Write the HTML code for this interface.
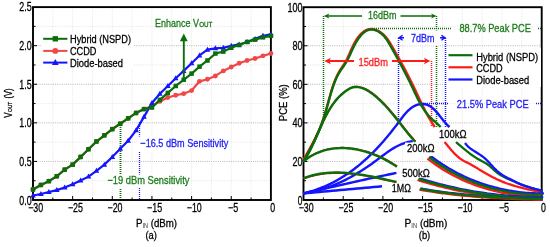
<!DOCTYPE html>
<html><head><meta charset="utf-8"><title>Figure</title>
<style>html,body{margin:0;padding:0;background:#fff;overflow:hidden}svg{display:block}</style></head>
<body>
<svg width="550" height="247" viewBox="0 0 550 247" font-family="'Liberation Sans', sans-serif">
<rect width="550" height="247" fill="#fff"/>
<path d="M52.83,7.10 V200.00 M72.65,7.10 V200.00 M92.47,7.10 V200.00 M112.30,7.10 V200.00 M132.12,7.10 V200.00 M151.95,7.10 V200.00 M171.77,7.10 V200.00 M191.60,7.10 V200.00 M211.42,7.10 V200.00 M231.25,7.10 V200.00 M251.07,7.10 V200.00 M33.00,26.39 H270.90 M33.00,64.97 H270.90 M33.00,103.55 H270.90 M33.00,142.13 H270.90 M33.00,180.71 H270.90" stroke="#dddddd" stroke-width="0.7" stroke-dasharray="1 1.2" fill="none"/>
<path d="M33.00,45.68 H270.90 M33.00,84.26 H270.90 M33.00,122.84 H270.90 M33.00,161.42 H270.90" stroke="#a4a4a4" stroke-width="0.8" stroke-dasharray="1 1.2" fill="none"/>
<path d="M120.5,123 V200" stroke="#0a6e0a" stroke-width="1.8" stroke-dasharray="1 1"/>
<path d="M139.5,122 V200" stroke="#1414ff" stroke-width="1.3" stroke-dasharray="1 1"/>
<rect x="33.00" y="7.10" width="237.90" height="192.90" fill="none" stroke="#000" stroke-width="1.9"/>
<path d="M52.83,200.00 v-2.50 M72.65,200.00 v-4.00 M92.47,200.00 v-2.50 M112.30,200.00 v-4.00 M132.12,200.00 v-2.50 M151.95,200.00 v-4.00 M171.77,200.00 v-2.50 M191.60,200.00 v-4.00 M211.42,200.00 v-2.50 M231.25,200.00 v-4.00 M251.07,200.00 v-2.50 M33.00,26.39 h2.50 M33.00,45.68 h4.00 M33.00,64.97 h2.50 M33.00,84.26 h4.00 M33.00,103.55 h2.50 M33.00,122.84 h4.00 M33.00,142.13 h2.50 M33.00,161.42 h4.00 M33.00,180.71 h2.50" stroke="#000" stroke-width="1" fill="none"/>
<path d="M33.00,189.51L40.93,184.95L48.86,181.17L56.79,176.23L64.72,169.68L72.65,164.66L80.58,156.94L88.51,149.23L96.44,141.51L104.37,135.34L112.30,129.17L120.23,123.77L128.16,118.36L136.09,112.96L144.02,109.11L151.95,106.02L159.88,101.39L167.81,97.53L175.74,95.22L183.67,93.67L191.60,90.59L199.53,81.33L207.46,79.24L215.39,75.93L223.32,70.91L231.25,67.05L239.18,63.20L247.11,60.49L255.04,58.49L262.97,55.87L270.90,53.55" stroke="#f04848" stroke-width="2.2" fill="none" stroke-linejoin="round"/>
<circle cx="33.00" cy="189.51" r="2.45" fill="#f04848"/>
<circle cx="40.93" cy="184.95" r="2.45" fill="#f04848"/>
<circle cx="48.86" cy="181.17" r="2.45" fill="#f04848"/>
<circle cx="56.79" cy="176.23" r="2.45" fill="#f04848"/>
<circle cx="64.72" cy="169.68" r="2.45" fill="#f04848"/>
<circle cx="72.65" cy="164.66" r="2.45" fill="#f04848"/>
<circle cx="80.58" cy="156.94" r="2.45" fill="#f04848"/>
<circle cx="88.51" cy="149.23" r="2.45" fill="#f04848"/>
<circle cx="96.44" cy="141.51" r="2.45" fill="#f04848"/>
<circle cx="104.37" cy="135.34" r="2.45" fill="#f04848"/>
<circle cx="112.30" cy="129.17" r="2.45" fill="#f04848"/>
<circle cx="120.23" cy="123.77" r="2.45" fill="#f04848"/>
<circle cx="128.16" cy="118.36" r="2.45" fill="#f04848"/>
<circle cx="136.09" cy="112.96" r="2.45" fill="#f04848"/>
<circle cx="144.02" cy="109.11" r="2.45" fill="#f04848"/>
<circle cx="151.95" cy="106.02" r="2.45" fill="#f04848"/>
<circle cx="159.88" cy="101.39" r="2.45" fill="#f04848"/>
<circle cx="167.81" cy="97.53" r="2.45" fill="#f04848"/>
<circle cx="175.74" cy="95.22" r="2.45" fill="#f04848"/>
<circle cx="183.67" cy="93.67" r="2.45" fill="#f04848"/>
<circle cx="191.60" cy="90.59" r="2.45" fill="#f04848"/>
<circle cx="199.53" cy="81.33" r="2.45" fill="#f04848"/>
<circle cx="207.46" cy="79.24" r="2.45" fill="#f04848"/>
<circle cx="215.39" cy="75.93" r="2.45" fill="#f04848"/>
<circle cx="223.32" cy="70.91" r="2.45" fill="#f04848"/>
<circle cx="231.25" cy="67.05" r="2.45" fill="#f04848"/>
<circle cx="239.18" cy="63.20" r="2.45" fill="#f04848"/>
<circle cx="247.11" cy="60.49" r="2.45" fill="#f04848"/>
<circle cx="255.04" cy="58.49" r="2.45" fill="#f04848"/>
<circle cx="262.97" cy="55.87" r="2.45" fill="#f04848"/>
<circle cx="270.90" cy="53.55" r="2.45" fill="#f04848"/>
<path d="M33.00,195.52L40.93,193.98L48.86,192.05L56.79,190.12L64.72,187.42L72.65,184.34L80.58,180.48L88.51,176.62L96.44,170.83L104.37,164.66L112.30,156.94L120.23,148.84L128.16,140.74L136.09,130.32L144.02,116.82L151.95,102.93L159.88,93.67L167.81,85.96L175.74,78.24L183.67,70.91L191.60,63.20L199.53,55.48L207.46,49.69L215.39,48.30L223.32,47.76L231.25,45.83L239.18,44.45L247.11,41.98L255.04,38.89L262.97,35.80L270.90,34.26" stroke="#1414ff" stroke-width="2.2" fill="none" stroke-linejoin="round"/>
<path d="M33.00,192.52 l2.80,5.00 h-5.60z" fill="#1414ff"/>
<path d="M40.93,190.98 l2.80,5.00 h-5.60z" fill="#1414ff"/>
<path d="M48.86,189.05 l2.80,5.00 h-5.60z" fill="#1414ff"/>
<path d="M56.79,187.12 l2.80,5.00 h-5.60z" fill="#1414ff"/>
<path d="M64.72,184.42 l2.80,5.00 h-5.60z" fill="#1414ff"/>
<path d="M72.65,181.34 l2.80,5.00 h-5.60z" fill="#1414ff"/>
<path d="M80.58,177.48 l2.80,5.00 h-5.60z" fill="#1414ff"/>
<path d="M88.51,173.62 l2.80,5.00 h-5.60z" fill="#1414ff"/>
<path d="M96.44,167.83 l2.80,5.00 h-5.60z" fill="#1414ff"/>
<path d="M104.37,161.66 l2.80,5.00 h-5.60z" fill="#1414ff"/>
<path d="M112.30,153.94 l2.80,5.00 h-5.60z" fill="#1414ff"/>
<path d="M120.23,145.84 l2.80,5.00 h-5.60z" fill="#1414ff"/>
<path d="M128.16,137.74 l2.80,5.00 h-5.60z" fill="#1414ff"/>
<path d="M136.09,127.32 l2.80,5.00 h-5.60z" fill="#1414ff"/>
<path d="M144.02,113.82 l2.80,5.00 h-5.60z" fill="#1414ff"/>
<path d="M151.95,99.93 l2.80,5.00 h-5.60z" fill="#1414ff"/>
<path d="M159.88,90.67 l2.80,5.00 h-5.60z" fill="#1414ff"/>
<path d="M167.81,82.96 l2.80,5.00 h-5.60z" fill="#1414ff"/>
<path d="M175.74,75.24 l2.80,5.00 h-5.60z" fill="#1414ff"/>
<path d="M183.67,67.91 l2.80,5.00 h-5.60z" fill="#1414ff"/>
<path d="M191.60,60.20 l2.80,5.00 h-5.60z" fill="#1414ff"/>
<path d="M199.53,52.48 l2.80,5.00 h-5.60z" fill="#1414ff"/>
<path d="M207.46,46.69 l2.80,5.00 h-5.60z" fill="#1414ff"/>
<path d="M215.39,45.30 l2.80,5.00 h-5.60z" fill="#1414ff"/>
<path d="M223.32,44.76 l2.80,5.00 h-5.60z" fill="#1414ff"/>
<path d="M231.25,42.83 l2.80,5.00 h-5.60z" fill="#1414ff"/>
<path d="M239.18,41.45 l2.80,5.00 h-5.60z" fill="#1414ff"/>
<path d="M247.11,38.98 l2.80,5.00 h-5.60z" fill="#1414ff"/>
<path d="M255.04,35.89 l2.80,5.00 h-5.60z" fill="#1414ff"/>
<path d="M262.97,32.80 l2.80,5.00 h-5.60z" fill="#1414ff"/>
<path d="M270.90,31.26 l2.80,5.00 h-5.60z" fill="#1414ff"/>
<path d="M33.00,189.51L40.93,184.95L48.86,181.17L56.79,176.23L64.72,169.68L72.65,164.66L80.58,156.94L88.51,149.23L96.44,141.51L104.37,135.34L112.30,129.17L120.23,123.77L128.16,118.36L136.09,112.96L144.02,109.11L151.95,107.56L159.88,99.85L167.81,92.90L175.74,85.96L183.67,79.78L191.60,73.61L199.53,66.67L207.46,60.49L215.39,53.55L223.32,51.62L231.25,47.76L239.18,45.06L247.11,41.98L255.04,39.66L262.97,37.35L270.90,35.80" stroke="#0a6e0a" stroke-width="2.2" fill="none" stroke-linejoin="round"/>
<rect x="30.75" y="187.26" width="4.50" height="4.50" fill="#0a6e0a"/>
<rect x="38.68" y="182.70" width="4.50" height="4.50" fill="#0a6e0a"/>
<rect x="46.61" y="178.92" width="4.50" height="4.50" fill="#0a6e0a"/>
<rect x="54.54" y="173.98" width="4.50" height="4.50" fill="#0a6e0a"/>
<rect x="62.47" y="167.43" width="4.50" height="4.50" fill="#0a6e0a"/>
<rect x="70.40" y="162.41" width="4.50" height="4.50" fill="#0a6e0a"/>
<rect x="78.33" y="154.69" width="4.50" height="4.50" fill="#0a6e0a"/>
<rect x="86.26" y="146.98" width="4.50" height="4.50" fill="#0a6e0a"/>
<rect x="94.19" y="139.26" width="4.50" height="4.50" fill="#0a6e0a"/>
<rect x="102.12" y="133.09" width="4.50" height="4.50" fill="#0a6e0a"/>
<rect x="110.05" y="126.92" width="4.50" height="4.50" fill="#0a6e0a"/>
<rect x="117.98" y="121.52" width="4.50" height="4.50" fill="#0a6e0a"/>
<rect x="125.91" y="116.11" width="4.50" height="4.50" fill="#0a6e0a"/>
<rect x="133.84" y="110.71" width="4.50" height="4.50" fill="#0a6e0a"/>
<rect x="141.77" y="106.86" width="4.50" height="4.50" fill="#0a6e0a"/>
<rect x="149.70" y="105.31" width="4.50" height="4.50" fill="#0a6e0a"/>
<rect x="157.63" y="97.60" width="4.50" height="4.50" fill="#0a6e0a"/>
<rect x="165.56" y="90.65" width="4.50" height="4.50" fill="#0a6e0a"/>
<rect x="173.49" y="83.71" width="4.50" height="4.50" fill="#0a6e0a"/>
<rect x="181.42" y="77.53" width="4.50" height="4.50" fill="#0a6e0a"/>
<rect x="189.35" y="71.36" width="4.50" height="4.50" fill="#0a6e0a"/>
<rect x="197.28" y="64.42" width="4.50" height="4.50" fill="#0a6e0a"/>
<rect x="205.21" y="58.24" width="4.50" height="4.50" fill="#0a6e0a"/>
<rect x="213.14" y="51.30" width="4.50" height="4.50" fill="#0a6e0a"/>
<rect x="221.07" y="49.37" width="4.50" height="4.50" fill="#0a6e0a"/>
<rect x="229.00" y="45.51" width="4.50" height="4.50" fill="#0a6e0a"/>
<rect x="236.93" y="42.81" width="4.50" height="4.50" fill="#0a6e0a"/>
<rect x="244.86" y="39.73" width="4.50" height="4.50" fill="#0a6e0a"/>
<rect x="252.79" y="37.41" width="4.50" height="4.50" fill="#0a6e0a"/>
<rect x="260.72" y="35.10" width="4.50" height="4.50" fill="#0a6e0a"/>
<rect x="268.65" y="33.55" width="4.50" height="4.50" fill="#0a6e0a"/>
<path d="M183.8,79 V41" stroke="#0a6e0a" stroke-width="1.9"/>
<path d="M183.8,33.5 l-3.9,7.8 h7.8z" fill="#0a6e0a"/>
<text x="31.6" y="11.4" font-size="12.2" fill="#000" stroke="#000" stroke-width="0.3" text-anchor="end" textLength="12.4" lengthAdjust="spacingAndGlyphs" >2.5</text>
<text x="31.6" y="50.0" font-size="12.2" fill="#000" stroke="#000" stroke-width="0.3" text-anchor="end" textLength="12.4" lengthAdjust="spacingAndGlyphs" >2.0</text>
<text x="31.6" y="88.6" font-size="12.2" fill="#000" stroke="#000" stroke-width="0.3" text-anchor="end" textLength="12.4" lengthAdjust="spacingAndGlyphs" >1.5</text>
<text x="31.6" y="127.1" font-size="12.2" fill="#000" stroke="#000" stroke-width="0.3" text-anchor="end" textLength="12.4" lengthAdjust="spacingAndGlyphs" >1.0</text>
<text x="31.6" y="165.7" font-size="12.2" fill="#000" stroke="#000" stroke-width="0.3" text-anchor="end" textLength="12.4" lengthAdjust="spacingAndGlyphs" >0.5</text>
<text x="31.6" y="204.7" font-size="12.2" fill="#000" stroke="#000" stroke-width="0.3" text-anchor="end" textLength="12.4" lengthAdjust="spacingAndGlyphs" >0.0</text>
<text x="35.7" y="211.8" font-size="12.2" fill="#000" stroke="#000" stroke-width="0.3" text-anchor="middle" textLength="15.0" lengthAdjust="spacingAndGlyphs" >−30</text>
<text x="75.4" y="211.8" font-size="12.2" fill="#000" stroke="#000" stroke-width="0.3" text-anchor="middle" textLength="15.0" lengthAdjust="spacingAndGlyphs" >−25</text>
<text x="115.0" y="211.8" font-size="12.2" fill="#000" stroke="#000" stroke-width="0.3" text-anchor="middle" textLength="15.0" lengthAdjust="spacingAndGlyphs" >−20</text>
<text x="154.6" y="211.8" font-size="12.2" fill="#000" stroke="#000" stroke-width="0.3" text-anchor="middle" textLength="15.0" lengthAdjust="spacingAndGlyphs" >−15</text>
<text x="194.3" y="211.8" font-size="12.2" fill="#000" stroke="#000" stroke-width="0.3" text-anchor="middle" textLength="15.0" lengthAdjust="spacingAndGlyphs" >−10</text>
<text x="233.2" y="211.8" font-size="12.2" fill="#000" stroke="#000" stroke-width="0.3" text-anchor="middle" textLength="10.2" lengthAdjust="spacingAndGlyphs" >−5</text>
<text x="272.7" y="211.8" font-size="12.2" fill="#000" stroke="#000" stroke-width="0.3" text-anchor="middle" textLength="4.9" lengthAdjust="spacingAndGlyphs" >0</text>
<rect x="42" y="32.5" width="91" height="36" fill="#fff"/>
<path d="M43.2,38.8 H67.4" stroke="#0a6e0a" stroke-width="2.0"/>
<rect x="52.60" y="36.10" width="5.40" height="5.40" fill="#0a6e0a"/>
<text x="70.0" y="43.2" font-size="11.7" fill="#000" stroke="#000" stroke-width="0.3" textLength="61.0" lengthAdjust="spacingAndGlyphs" >Hybrid (NSPD)</text>
<path d="M43.2,50.9 H67.4" stroke="#f04848" stroke-width="2.0"/>
<circle cx="55.30" cy="50.90" r="2.94" fill="#f04848"/>
<text x="70.0" y="55.3" font-size="11.7" fill="#000" stroke="#000" stroke-width="0.3" textLength="26.5" lengthAdjust="spacingAndGlyphs" >CCDD</text>
<path d="M43.2,62.6 H67.4" stroke="#1414ff" stroke-width="2.0"/>
<path d="M55.30,59.00 l3.36,6.00 h-6.72z" fill="#1414ff"/>
<text x="70.0" y="67.0" font-size="11.7" fill="#000" stroke="#000" stroke-width="0.3" textLength="53.0" lengthAdjust="spacingAndGlyphs" >Diode-based</text>
<text x="155.1" y="26.9" font-size="11.6" fill="#1a7a1a" stroke="#1a7a1a" stroke-width="0.3" textLength="43.9" lengthAdjust="spacingAndGlyphs" >Enhance V</text>
<text x="199.2" y="26.9" font-size="7.0" fill="#1a7a1a" stroke="#1a7a1a" stroke-width="0.3" textLength="13.2" lengthAdjust="spacingAndGlyphs" >OUT</text>
<rect x="138" y="136.5" width="92" height="15" fill="#fff"/>
<rect x="106" y="174.5" width="84" height="13.5" fill="#fff"/>
<text x="140.3" y="147.3" font-size="11.2" fill="#2020f5" stroke="#2020f5" stroke-width="0.3" textLength="88.0" lengthAdjust="spacingAndGlyphs" >−16.5 dBm Sensitivity</text>
<text x="107.4" y="184.0" font-size="11.2" fill="#1a7a1a" stroke="#1a7a1a" stroke-width="0.3" textLength="82.0" lengthAdjust="spacingAndGlyphs" >−19 dBm Sensitivity</text>
<text x="136.0" y="226.8" font-size="11.4" fill="#000" stroke="#000" stroke-width="0.3" textLength="41.0" lengthAdjust="spacingAndGlyphs" >P<tspan font-size="6.5" dy="0.8" stroke-width="0" fill="#333">IN</tspan><tspan dy="-0.8"> (dBm)</tspan></text>
<text x="151.2" y="239.4" font-size="11.4" fill="#000" stroke="#000" stroke-width="0.3" text-anchor="middle" textLength="11.5" lengthAdjust="spacingAndGlyphs" >(a)</text>
<g transform="translate(11.6,0) rotate(-90)" stroke="#000" stroke-width="0.3"><text x="-117.8" y="0" font-size="11" textLength="5.4" lengthAdjust="spacingAndGlyphs">V</text><text x="-112" y="0" font-size="6.2" textLength="10.2" lengthAdjust="spacingAndGlyphs">OUT</text><text x="-98.6" y="0" font-size="11" textLength="10.2" lengthAdjust="spacingAndGlyphs">(V)</text></g>
<path d="M323.35,7.20 V200.00 M343.20,7.20 V200.00 M363.05,7.20 V200.00 M382.90,7.20 V200.00 M402.75,7.20 V200.00 M422.60,7.20 V200.00 M442.45,7.20 V200.00 M462.30,7.20 V200.00 M482.15,7.20 V200.00 M502.00,7.20 V200.00 M521.85,7.20 V200.00 M303.50,26.48 H541.70 M303.50,65.04 H541.70 M303.50,103.60 H541.70 M303.50,142.16 H541.70 M303.50,180.72 H541.70" stroke="#dddddd" stroke-width="0.7" stroke-dasharray="1 1.2" fill="none"/>
<path d="M303.50,45.76 H541.70 M303.50,84.32 H541.70 M303.50,122.88 H541.70 M303.50,161.44 H541.70" stroke="#a4a4a4" stroke-width="0.8" stroke-dasharray="1 1.2" fill="none"/>
<path d="M323.5,16 V122" stroke="#0a6e0a" stroke-width="1.5" stroke-dasharray="1 1" fill="none"/>
<path d="M436.5,16 V127" stroke="#0a6e0a" stroke-width="1.5" stroke-dasharray="1 1" fill="none"/>
<path d="M372,28.5 H451" stroke="#0a6e0a" stroke-width="1.5" stroke-dasharray="1 1" fill="none"/>
<path d="M398.5,38 V122" stroke="#1414ff" stroke-width="1.5" stroke-dasharray="1 1" fill="none"/>
<path d="M445.5,38 V127" stroke="#1414ff" stroke-width="1.5" stroke-dasharray="1 1" fill="none"/>
<path d="M431.5,61 V127" stroke="#ff1a1a" stroke-width="1.5" stroke-dasharray="1 1" fill="none"/>
<path d="M421,103.5 H448" stroke="#1414ff" stroke-width="1.5" stroke-dasharray="1 1" fill="none"/>
<path d="M536,103.5 H541" stroke="#1414ff" stroke-width="1.5" stroke-dasharray="1 1" fill="none"/>
<path d="M538,28.5 H541" stroke="#0a6e0a" stroke-width="1.5" stroke-dasharray="1 1" fill="none"/>
<rect x="303.50" y="7.20" width="238.20" height="192.80" fill="none" stroke="#000" stroke-width="1.9"/>
<path d="M323.35,200.00 v-2.50 M343.20,200.00 v-4.00 M363.05,200.00 v-2.50 M382.90,200.00 v-4.00 M402.75,200.00 v-2.50 M422.60,200.00 v-4.00 M442.45,200.00 v-2.50 M462.30,200.00 v-4.00 M482.15,200.00 v-2.50 M502.00,200.00 v-4.00 M521.85,200.00 v-2.50 M303.50,26.48 h2.50 M303.50,45.76 h4.00 M303.50,65.04 h2.50 M303.50,84.32 h4.00 M303.50,103.60 h2.50 M303.50,122.88 h4.00 M303.50,142.16 h2.50 M303.50,161.44 h4.00 M303.50,180.72 h2.50" stroke="#000" stroke-width="1" fill="none"/>
<path d="M303.29,159.99L304.34,158.18L305.39,156.36L306.44,154.54L307.48,152.71L308.52,150.88L309.54,149.04L310.56,147.20L311.56,145.35L312.55,143.49L313.52,141.63L314.47,139.76L315.41,137.88L316.33,135.99L317.23,134.09L318.10,132.18L318.95,130.26L319.77,128.33L320.57,126.39L321.34,124.44L322.07,122.48L322.78,120.50L323.45,118.52L324.10,116.52L324.73,114.52L325.34,112.50L325.93,110.49L326.50,108.46L327.07,106.43L327.63,104.40L328.19,102.37L328.75,100.34L329.31,98.31L329.87,96.28L330.45,94.26L331.03,92.24L331.64,90.22L332.26,88.21L332.90,86.22L333.58,84.23L334.29,82.26L335.04,80.31L335.84,78.38L336.69,76.48L337.60,74.60L338.58,72.76L339.62,70.95L340.74,69.17L341.90,67.41L343.06,65.66L344.21,63.91L345.30,62.12L346.31,60.30L347.26,58.45L348.16,56.57L349.02,54.68L349.87,52.77L350.71,50.85L351.55,48.93L352.43,47.02L353.35,45.12L354.32,43.24L355.37,41.38L356.50,39.55L357.74,37.75L359.08,36.02L360.52,34.40L362.05,32.91L363.67,31.60L365.38,30.51L367.17,29.69L369.02,29.15L370.95,28.96L372.93,29.10L374.92,29.55L376.90,30.26L378.83,31.22L380.69,32.37L382.44,33.69L384.06,35.14L385.52,36.70L386.87,38.34L388.11,40.05L389.28,41.82L390.39,43.62L391.47,45.44L392.54,47.27L393.61,49.09L394.66,50.92L395.71,52.74L396.75,54.57L397.79,56.40L398.81,58.23L399.83,60.06L400.84,61.90L401.85,63.74L402.84,65.58L403.83,67.42L404.82,69.27L405.79,71.12L406.76,72.97L407.72,74.83L408.67,76.69L409.62,78.56L410.56,80.43L411.49,82.31L412.42,84.19L413.33,86.08L414.24,87.97L415.15,89.87L416.05,91.77L416.94,93.68L417.84,95.59L418.73,97.50L419.63,99.40L420.53,101.31L421.44,103.21L422.36,105.11L423.29,107.00L424.23,108.88L425.19,110.75L426.16,112.62L427.15,114.47L428.16,116.31L429.20,118.14L430.26,119.95L431.34,121.74L432.45,123.52L433.59,125.27L434.77,127.01" stroke="#ff1a1a" stroke-width="2.4" fill="none" stroke-linecap="butt" stroke-linejoin="round"/>
<path d="M303.83,160.82L304.91,159.26L305.96,157.67L306.97,156.04L307.96,154.38L308.92,152.69L309.85,150.97L310.76,149.23L311.64,147.47L312.51,145.69L313.36,143.89L314.20,142.07L315.03,140.24L315.85,138.40L316.67,136.55L317.47,134.70L318.28,132.84L319.09,130.97L319.90,129.11L320.72,127.25L321.54,125.40L322.38,123.55L323.22,121.72L324.09,119.89L324.97,118.08L325.87,116.28L326.79,114.50L327.74,112.75L328.71,111.01L329.71,109.31L330.75,107.62L331.81,105.97L332.92,104.35L334.06,102.77L335.25,101.22L336.48,99.71L337.75,98.24L339.08,96.81L340.45,95.43L341.88,94.10L343.36,92.82L344.90,91.59L346.50,90.41L348.17,89.29L349.89,88.29L351.66,87.45L353.47,86.86L355.32,86.57L357.18,86.54L359.06,86.75L360.92,87.16L362.77,87.73L364.59,88.45L366.38,89.30L368.15,90.27L369.89,91.35L371.60,92.51L373.27,93.74L374.91,95.04L376.51,96.39L378.08,97.76L379.60,99.16L381.09,100.57L382.54,101.99L383.95,103.43L385.34,104.87L386.69,106.33L388.02,107.80L389.33,109.28L390.61,110.77L391.88,112.27L393.13,113.78L394.36,115.29L395.59,116.81L396.80,118.34L398.01,119.87L399.22,121.40L400.42,122.94L401.62,124.48L402.83,126.03L404.05,127.57L405.27,129.12L406.50,130.67L407.75,132.21L409.01,133.76L410.29,135.30L411.60,136.84L412.92,138.38L414.27,139.91L415.65,141.44" stroke="#ff1a1a" stroke-width="1.6" fill="none" stroke-linecap="butt" stroke-linejoin="round"/>
<path d="M303.58,161.25L305.28,159.87L307.01,158.56L308.77,157.34L310.56,156.19L312.36,155.13L314.19,154.14L316.05,153.22L317.92,152.38L319.81,151.62L321.72,150.92L323.65,150.30L325.59,149.75L327.55,149.26L329.52,148.84L331.50,148.49L333.49,148.20L335.49,147.97L337.50,147.80L339.52,147.70L341.54,147.65L343.56,147.66L345.59,147.73L347.63,147.85L349.66,148.03L351.69,148.26L353.72,148.54L355.75,148.87L357.77,149.25L359.79,149.68L361.80,150.16L363.80,150.68L365.80,151.24L367.78,151.84L369.76,152.49L371.72,153.18L373.66,153.90L375.59,154.67L377.51,155.47L379.40,156.30L381.28,157.17L383.14,158.07L384.98,159.00L386.79,159.96L388.58,160.95L390.35,161.96L392.09,163.01L393.80,164.07L395.48,165.16L397.13,166.28" stroke="#ff1a1a" stroke-width="1.6" fill="none" stroke-linecap="butt" stroke-linejoin="round"/>
<path d="M303.65,178.69L306.01,177.84L308.37,177.07L310.74,176.38L313.11,175.76L315.48,175.20L317.86,174.72L320.24,174.30L322.63,173.94L325.02,173.65L327.41,173.41L329.81,173.23L332.20,173.11L334.60,173.04L337.00,173.02L339.40,173.04L341.80,173.12L344.20,173.23L346.61,173.39L349.01,173.59L351.41,173.82L353.81,174.09L356.21,174.39L358.61,174.72L361.01,175.09L363.40,175.47L365.79,175.88L368.18,176.32L370.57,176.77L372.96,177.24L375.34,177.73L377.71,178.22L380.09,178.73L382.46,179.25L384.82,179.78L387.18,180.30L389.53,180.84L391.88,181.37L394.23,181.90L396.56,182.42" stroke="#ff1a1a" stroke-width="1.8" fill="none" stroke-linecap="butt" stroke-linejoin="round"/>
<path d="M303.26,193.47L305.71,192.86L308.13,192.21L310.52,191.52L312.88,190.79L315.22,190.02L317.52,189.21L319.81,188.36L322.06,187.47L324.29,186.55L326.49,185.58L328.67,184.58L330.82,183.55L332.95,182.48L335.06,181.37L337.14,180.23L339.19,179.05L341.23,177.84L343.24,176.60L345.23,175.33L347.19,174.03L349.14,172.69L351.06,171.33L352.97,169.93L354.85,168.51L356.71,167.05L358.56,165.57L360.38,164.07L362.19,162.53L363.97,160.97L365.74,159.39L367.49,157.77L369.23,156.14L370.95,154.48L372.65,152.80L374.33,151.09L376.00,149.37L377.66,147.62L379.30,145.85L380.92,144.06L382.53,142.25L384.13,140.42L385.71,138.58L387.29,136.71L388.84,134.83L390.39,132.93L391.93,131.02L393.45,129.09L394.96,127.14L396.46,125.18L397.95,123.21L399.43,121.22L400.91,119.23L402.40,117.26L403.91,115.33L405.45,113.48L407.05,111.71L408.71,110.06L410.45,108.56L412.29,107.22L414.23,106.08L416.30,105.15L418.48,104.47L420.74,104.07L423.02,103.98L425.26,104.24L427.41,104.88L429.47,105.87L431.43,107.17L433.31,108.72L435.11,110.47L436.86,112.38L438.54,114.39L440.18,116.44L441.79,118.50L443.36,120.51L444.91,122.41L446.45,124.16L447.99,125.71L449.54,127.01" stroke="#1414ff" stroke-width="2.4" fill="none" stroke-linecap="butt" stroke-linejoin="round"/>
<path d="M303.41,193.38L305.71,193.04L308.00,192.66L310.27,192.23L312.52,191.76L314.76,191.25L316.98,190.71L319.19,190.12L321.37,189.49L323.55,188.83L325.71,188.13L327.85,187.39L329.98,186.62L332.09,185.82L334.19,184.98L336.28,184.11L338.35,183.21L340.40,182.28L342.45,181.31L344.48,180.32L346.49,179.31L348.49,178.26L350.48,177.19L352.46,176.09L354.42,174.97L356.38,173.82L358.31,172.65L360.24,171.46L362.16,170.25L364.06,169.02L365.95,167.76L367.83,166.49L369.70,165.21L371.56,163.90L373.41,162.58L375.25,161.24L377.07,159.89L378.89,158.53L380.70,157.16L382.51,155.80L384.33,154.45L386.16,153.11L387.99,151.81L389.85,150.54L391.73,149.31L393.64,148.14L395.57,147.02L397.55,145.98L399.56,145.00L401.62,144.12L403.74,143.32L405.90,142.62L408.13,142.03L410.42,141.56L412.77,141.21" stroke="#1414ff" stroke-width="2.4" fill="none" stroke-linecap="butt" stroke-linejoin="round"/>
<path d="M303.00,193.52L306.89,192.64L310.78,191.76L314.67,190.88L318.56,190.00L322.45,189.12L326.33,188.24L330.22,187.35L334.11,186.47L338.00,185.60L341.89,184.72L345.78,183.85L349.66,182.98L353.56,182.11L357.45,181.25L361.34,180.39L365.23,179.53L369.13,178.68L373.02,177.84L376.92,177.00L380.82,176.17L384.72,175.34L388.62,174.52L392.52,173.71L396.42,172.90" stroke="#1414ff" stroke-width="2.4" fill="none" stroke-linecap="butt" stroke-linejoin="round"/>
<path d="M303.00,193.50L307.16,193.11L311.31,192.72L315.47,192.33L319.63,191.95L323.79,191.57L327.94,191.19L332.10,190.81L336.26,190.43L340.42,190.06L344.58,189.69L348.74,189.31L352.89,188.94L357.05,188.57L361.21,188.19L365.37,187.82L369.53,187.44L373.68,187.06L377.84,186.68L382.00,186.30" stroke="#1414ff" stroke-width="2.4" fill="none" stroke-linecap="butt" stroke-linejoin="round"/>
<path d="M303.48,161.49L304.48,159.62L305.49,157.75L306.50,155.87L307.51,154.00L308.52,152.12L309.52,150.24L310.51,148.35L311.49,146.46L312.47,144.57L313.43,142.67L314.38,140.77L315.31,138.86L316.22,136.94L317.12,135.01L317.99,133.07L318.85,131.13L319.68,129.17L320.48,127.21L321.25,125.23L322.00,123.24L322.71,121.24L323.39,119.23L324.05,117.21L324.69,115.18L325.30,113.14L325.90,111.09L326.48,109.04L327.06,106.99L327.63,104.93L328.19,102.88L328.76,100.82L329.33,98.77L329.91,96.72L330.50,94.67L331.10,92.63L331.72,90.59L332.36,88.57L333.03,86.55L333.73,84.55L334.47,82.57L335.25,80.61L336.09,78.67L336.99,76.76L337.95,74.88L338.98,73.03L340.09,71.22L341.27,69.45L342.50,67.70L343.73,65.95L344.94,64.18L346.07,62.39L347.12,60.56L348.11,58.70L349.04,56.81L349.93,54.90L350.80,52.99L351.66,51.07L352.53,49.15L353.44,47.24L354.38,45.35L355.38,43.47L356.46,41.61L357.63,39.77L358.90,37.94L360.28,36.16L361.75,34.49L363.32,32.97L364.99,31.66L366.73,30.60L368.56,29.85L370.45,29.46L372.41,29.46L374.41,29.84L376.39,30.53L378.33,31.50L380.19,32.69L381.92,34.07L383.49,35.58L384.92,37.20L386.21,38.91L387.41,40.69L388.54,42.52L389.61,44.37L390.67,46.24L391.73,48.10L392.77,49.96L393.82,51.82L394.86,53.68L395.89,55.54L396.92,57.40L397.94,59.27L398.96,61.13L399.97,62.99L400.97,64.86L401.97,66.73L402.96,68.60L403.94,70.48L404.92,72.36L405.89,74.24L406.85,76.13L407.81,78.02L408.75,79.92L409.69,81.83L410.62,83.74L411.55,85.65L412.46,87.58L413.37,89.51L414.27,91.45L415.17,93.38L416.09,95.32L417.01,97.24L417.95,99.16L418.92,101.05L419.92,102.93L420.95,104.79L422.03,106.62L423.15,108.42L424.32,110.18L425.56,111.90L426.86,113.58L428.22,115.22L429.66,116.80L431.19,118.33L432.79,119.80L434.43,121.24L436.07,122.66L437.68,124.08L439.21,125.51L440.64,126.98" stroke="#0a6e0a" stroke-width="2.4" fill="none" stroke-linecap="butt" stroke-linejoin="round"/>
<path d="M303.43,161.22L304.51,159.66L305.56,158.07L306.57,156.44L307.56,154.78L308.52,153.09L309.45,151.37L310.36,149.63L311.24,147.87L312.11,146.09L312.96,144.29L313.80,142.47L314.63,140.64L315.45,138.80L316.27,136.95L317.07,135.10L317.88,133.24L318.69,131.37L319.50,129.51L320.32,127.65L321.14,125.80L321.98,123.95L322.82,122.12L323.69,120.29L324.57,118.48L325.47,116.68L326.39,114.90L327.34,113.15L328.31,111.41L329.31,109.71L330.35,108.02L331.41,106.37L332.52,104.75L333.66,103.17L334.85,101.62L336.08,100.11L337.35,98.64L338.68,97.21L340.05,95.83L341.48,94.50L342.96,93.22L344.50,91.99L346.10,90.81L347.77,89.69L349.49,88.69L351.26,87.85L353.07,87.26L354.92,86.97L356.78,86.94L358.66,87.15L360.52,87.56L362.37,88.13L364.19,88.85L365.98,89.70L367.75,90.67L369.49,91.75L371.20,92.91L372.87,94.14L374.51,95.44L376.11,96.79L377.68,98.16L379.20,99.56L380.69,100.97L382.14,102.39L383.55,103.83L384.94,105.27L386.29,106.73L387.62,108.20L388.93,109.68L390.21,111.17L391.48,112.67L392.73,114.18L393.96,115.69L395.19,117.21L396.40,118.74L397.61,120.27L398.82,121.80L400.02,123.34L401.22,124.88L402.43,126.43L403.65,127.97L404.87,129.52L406.10,131.07L407.35,132.61L408.61,134.16L409.89,135.70L411.20,137.24L412.52,138.78L413.87,140.31L415.25,141.84" stroke="#0a6e0a" stroke-width="2.4" fill="none" stroke-linecap="butt" stroke-linejoin="round"/>
<path d="M303.28,161.65L304.98,160.27L306.71,158.96L308.47,157.74L310.26,156.59L312.06,155.53L313.89,154.54L315.75,153.62L317.62,152.78L319.51,152.02L321.42,151.32L323.35,150.70L325.29,150.15L327.25,149.66L329.22,149.24L331.20,148.89L333.19,148.60L335.19,148.37L337.20,148.20L339.22,148.10L341.24,148.05L343.26,148.06L345.29,148.13L347.33,148.25L349.36,148.43L351.39,148.66L353.42,148.94L355.45,149.27L357.47,149.65L359.49,150.08L361.50,150.56L363.50,151.08L365.50,151.64L367.48,152.24L369.46,152.89L371.42,153.58L373.36,154.30L375.29,155.07L377.21,155.87L379.10,156.70L380.98,157.57L382.84,158.47L384.68,159.40L386.49,160.36L388.28,161.35L390.05,162.36L391.79,163.41L393.50,164.47L395.18,165.56L396.83,166.68" stroke="#0a6e0a" stroke-width="2.4" fill="none" stroke-linecap="butt" stroke-linejoin="round"/>
<path d="M303.45,178.19L305.81,177.34L308.17,176.57L310.54,175.88L312.91,175.26L315.28,174.70L317.66,174.22L320.04,173.80L322.43,173.44L324.82,173.15L327.21,172.91L329.61,172.73L332.00,172.61L334.40,172.54L336.80,172.52L339.20,172.54L341.60,172.62L344.00,172.73L346.41,172.89L348.81,173.09L351.21,173.32L353.61,173.59L356.01,173.89L358.41,174.22L360.81,174.59L363.20,174.97L365.59,175.38L367.98,175.82L370.37,176.27L372.76,176.74L375.14,177.23L377.51,177.72L379.89,178.23L382.26,178.75L384.62,179.28L386.98,179.80L389.33,180.34L391.68,180.87L394.03,181.40L396.36,181.92" stroke="#0a6e0a" stroke-width="2.4" fill="none" stroke-linecap="butt" stroke-linejoin="round"/>
<path d="M444.59,142.02L445.55,143.16L446.51,144.32L447.48,145.49L448.45,146.67L449.42,147.85L450.41,149.03L451.41,150.20L452.43,151.35L453.46,152.49L454.52,153.60L455.60,154.69L456.70,155.73L457.84,156.74L459.01,157.71L460.21,158.62L461.45,159.47L462.73,160.27L464.05,161.01L465.40,161.70L466.76,162.38L468.12,163.05L469.48,163.74L470.81,164.46L472.12,165.21L473.42,165.99L474.72,166.77L476.02,167.56L477.32,168.34L478.62,169.13L479.93,169.91L481.23,170.69L482.54,171.47L483.85,172.24L485.17,173.01L486.49,173.76L487.81,174.51L489.14,175.25L490.47,175.98L491.82,176.70L493.16,177.40L494.52,178.09L495.88,178.76L497.25,179.42L498.63,180.05L500.01,180.67L501.41,181.27L502.81,181.85L504.23,182.41L505.65,182.95L507.08,183.47L508.52,183.98L509.96,184.46L511.41,184.94L512.87,185.39L514.33,185.83L515.80,186.26L517.27,186.68L518.75,187.08L520.23,187.47L521.71,187.85L523.19,188.23L524.68,188.59L526.17,188.94L527.66,189.29L529.14,189.63L530.63,189.96L532.12,190.29L533.61,190.61L535.10,190.93L536.58,191.25L538.07,191.56L539.54,191.88L541.02,192.19L542.49,192.50" stroke="#ff1a1a" stroke-width="2.3" fill="none" stroke-linecap="butt" stroke-linejoin="round"/>
<path d="M456.00,141.99L457.18,143.04L458.35,144.08L459.53,145.12L460.72,146.15L461.92,147.18L463.12,148.20L464.33,149.21L465.56,150.21L466.79,151.19L468.03,152.16L469.28,153.12L470.55,154.06L471.83,154.98L473.12,155.87L474.42,156.75L475.74,157.60L477.08,158.43L478.43,159.23L479.79,160.00L481.17,160.76L482.55,161.50L483.93,162.25L485.28,163.02L486.62,163.83L487.92,164.70L489.17,165.62L490.37,166.62L491.53,167.69L492.67,168.79L493.81,169.90L494.98,170.97L496.18,171.98L497.42,172.94L498.70,173.84L500.01,174.70L501.35,175.50L502.72,176.27L504.11,177.00L505.52,177.70L506.95,178.38L508.39,179.04L509.83,179.68L511.28,180.31L512.72,180.94L514.17,181.56L515.62,182.17L517.07,182.78L518.52,183.37L519.97,183.96L521.43,184.53L522.89,185.09L524.35,185.64L525.82,186.17L527.30,186.69L528.78,187.19L530.27,187.67L531.77,188.14L533.27,188.58L534.79,189.00L536.31,189.40L537.85,189.78L539.39,190.13L540.95,190.46L542.52,190.75" stroke="#0a6e0a" stroke-width="2.3" fill="none" stroke-linecap="butt" stroke-linejoin="round"/>
<path d="M465.00,143.00L465.99,144.28L467.05,145.46L468.17,146.56L469.36,147.60L470.60,148.57L471.87,149.49L473.18,150.38L474.51,151.24L475.85,152.08L477.19,152.92L478.53,153.76L479.86,154.62L481.16,155.50L482.43,156.42L483.67,157.38L484.87,158.38L486.03,159.43L487.15,160.52L488.24,161.65L489.32,162.79L490.38,163.95L491.44,165.11L492.50,166.27L493.56,167.43L494.64,168.56L495.75,169.66L496.88,170.74L498.04,171.76L499.25,172.74L500.51,173.66L501.80,174.53L503.13,175.37L504.48,176.17L505.86,176.94L507.25,177.68L508.66,178.42L510.07,179.14L511.48,179.86L512.89,180.58L514.29,181.30L515.70,182.01L517.11,182.70L518.53,183.37L519.96,184.01L521.40,184.61L522.86,185.18L524.33,185.72L525.81,186.23L527.30,186.71L528.79,187.18L530.30,187.62L531.81,188.04L533.33,188.45L534.86,188.85L536.38,189.24L537.91,189.63L539.45,190.01L540.98,190.40L542.51,190.78" stroke="#1414ff" stroke-width="2.3" fill="none" stroke-linecap="butt" stroke-linejoin="round"/>
<path d="M427.45,158.61L429.43,160.14L431.43,161.64L433.44,163.11L435.48,164.55L437.54,165.95L439.62,167.33L441.72,168.67L443.83,169.98L445.96,171.27L448.12,172.52L450.28,173.74L452.47,174.92L454.67,176.08L456.89,177.21L459.12,178.30L461.36,179.36L463.63,180.39L465.90,181.39L468.19,182.36L470.49,183.29L472.81,184.19L475.14,185.06L477.47,185.90L479.82,186.71L482.19,187.48L484.56,188.23L486.94,188.94L489.33,189.62L491.73,190.26L494.14,190.87L496.56,191.45L498.99,192.00L501.42,192.52L503.86,193.00L506.31,193.45L508.76,193.87L511.22,194.25L513.68,194.60L516.15,194.92L518.63,195.21L521.10,195.46L523.58,195.68L526.07,195.86L528.56,196.02L531.04,196.14L533.53,196.22L536.03,196.27L538.52,196.29L541.01,196.28" stroke="#ff1a1a" stroke-width="2.3" fill="none" stroke-linecap="butt" stroke-linejoin="round"/>
<path d="M430.35,155.71L432.33,157.24L434.33,158.74L436.34,160.21L438.38,161.65L440.44,163.05L442.52,164.43L444.62,165.77L446.73,167.08L448.86,168.37L451.02,169.62L453.18,170.84L455.37,172.02L457.57,173.18L459.79,174.31L462.02,175.40L464.26,176.46L466.53,177.49L468.80,178.49L471.09,179.46L473.39,180.39L475.71,181.29L478.04,182.16L480.37,183.00L482.72,183.81L485.09,184.58L487.46,185.33L489.84,186.04L492.23,186.72L494.63,187.36L497.04,187.97L499.46,188.55L501.89,189.10L504.32,189.62L506.76,190.10L509.21,190.55L511.66,190.97L514.12,191.35L516.58,191.70L519.05,192.02L521.53,192.31L524.00,192.56L526.48,192.78L528.97,192.96L531.46,193.12L533.94,193.24L536.43,193.32L538.93,193.37L541.42,193.39L543.91,193.38" stroke="#1414ff" stroke-width="2.3" fill="none" stroke-linecap="butt" stroke-linejoin="round"/>
<path d="M428.95,157.01L430.93,158.54L432.93,160.04L434.94,161.51L436.98,162.95L439.04,164.35L441.12,165.73L443.22,167.07L445.33,168.38L447.46,169.67L449.62,170.92L451.78,172.14L453.97,173.32L456.17,174.48L458.39,175.61L460.62,176.70L462.86,177.76L465.13,178.79L467.40,179.79L469.69,180.76L471.99,181.69L474.31,182.59L476.64,183.46L478.97,184.30L481.32,185.11L483.69,185.88L486.06,186.63L488.44,187.34L490.83,188.02L493.23,188.66L495.64,189.27L498.06,189.85L500.49,190.40L502.92,190.92L505.36,191.40L507.81,191.85L510.26,192.27L512.72,192.65L515.18,193.00L517.65,193.32L520.13,193.61L522.60,193.86L525.08,194.08L527.57,194.26L530.06,194.42L532.54,194.54L535.03,194.62L537.53,194.67L540.02,194.69L542.51,194.68" stroke="#0a6e0a" stroke-width="2.3" fill="none" stroke-linecap="butt" stroke-linejoin="round"/>
<path d="M417.48,180.08L421.01,181.19L424.55,182.27L428.11,183.31L431.67,184.31L435.25,185.29L438.83,186.23L442.42,187.13L446.02,188.01L449.63,188.85L453.25,189.65L456.87,190.42L460.50,191.16L464.14,191.87L467.78,192.55L471.43,193.19L475.09,193.79L478.75,194.37L482.42,194.91L486.09,195.42L489.76,195.90L493.44,196.35L497.13,196.76L500.81,197.14L504.50,197.49L508.20,197.80L511.89,198.09L515.59,198.34L519.29,198.56L522.99,198.74L526.69,198.90L530.39,199.02L534.09,199.11L537.79,199.18L541.50,199.20" stroke="#ff1a1a" stroke-width="2.0" fill="none" stroke-linecap="butt" stroke-linejoin="round"/>
<path d="M419.28,177.88L422.81,178.99L426.35,180.07L429.91,181.11L433.47,182.11L437.05,183.09L440.63,184.03L444.22,184.93L447.82,185.81L451.43,186.65L455.05,187.45L458.67,188.22L462.30,188.96L465.94,189.67L469.58,190.35L473.23,190.99L476.89,191.59L480.55,192.17L484.22,192.71L487.89,193.22L491.56,193.70L495.24,194.15L498.93,194.56L502.61,194.94L506.30,195.29L510.00,195.60L513.69,195.89L517.39,196.14L521.09,196.36L524.79,196.54L528.49,196.70L532.19,196.82L535.89,196.91L539.59,196.98L543.30,197.00" stroke="#1414ff" stroke-width="1.7" fill="none" stroke-linecap="butt" stroke-linejoin="round"/>
<path d="M418.48,178.88L422.01,179.99L425.55,181.07L429.11,182.11L432.67,183.11L436.25,184.09L439.83,185.03L443.42,185.93L447.02,186.81L450.63,187.65L454.25,188.45L457.87,189.22L461.50,189.96L465.14,190.67L468.78,191.35L472.43,191.99L476.09,192.59L479.75,193.17L483.42,193.71L487.09,194.22L490.76,194.70L494.44,195.15L498.13,195.56L501.81,195.94L505.50,196.29L509.20,196.60L512.89,196.89L516.59,197.14L520.29,197.36L523.99,197.54L527.69,197.70L531.39,197.82L535.09,197.91L538.79,197.98L542.50,198.00" stroke="#0a6e0a" stroke-width="2.4" fill="none" stroke-linecap="butt" stroke-linejoin="round"/>
<path d="M419.39,189.79L422.95,190.41L426.52,191.01L430.09,191.58L433.67,192.13L437.25,192.65L440.83,193.14L444.42,193.62L448.01,194.07L451.60,194.50L455.20,194.91L458.80,195.29L462.40,195.66L466.00,196.01L469.60,196.33L473.21,196.64L476.82,196.93L480.43,197.21L484.04,197.47L487.65,197.71L491.27,197.93L494.88,198.15L498.50,198.34L502.11,198.53L505.73,198.70L509.35,198.85L512.97,199.00L516.58,199.14L520.20,199.26L523.82,199.38L527.44,199.48L531.05,199.58L534.67,199.67L538.28,199.75L541.90,199.82" stroke="#ff1a1a" stroke-width="2.0" fill="none" stroke-linecap="butt" stroke-linejoin="round"/>
<path d="M420.59,188.09L424.15,188.71L427.72,189.31L431.29,189.88L434.87,190.43L438.45,190.95L442.03,191.44L445.62,191.92L449.21,192.37L452.80,192.80L456.40,193.21L460.00,193.59L463.60,193.96L467.20,194.31L470.80,194.63L474.41,194.94L478.02,195.23L481.63,195.51L485.24,195.77L488.85,196.01L492.47,196.23L496.08,196.45L499.70,196.64L503.31,196.83L506.93,197.00L510.55,197.15L514.17,197.30L517.78,197.44L521.40,197.56L525.02,197.68L528.64,197.78L532.25,197.88L535.87,197.97L539.48,198.05L543.10,198.12" stroke="#1414ff" stroke-width="1.5" fill="none" stroke-linecap="butt" stroke-linejoin="round"/>
<path d="M419.99,188.89L423.55,189.51L427.12,190.11L430.69,190.68L434.27,191.23L437.85,191.75L441.43,192.24L445.02,192.72L448.61,193.17L452.20,193.60L455.80,194.01L459.40,194.39L463.00,194.76L466.60,195.11L470.20,195.43L473.81,195.74L477.42,196.03L481.03,196.31L484.64,196.57L488.25,196.81L491.87,197.03L495.48,197.25L499.10,197.44L502.71,197.63L506.33,197.80L509.95,197.95L513.57,198.10L517.18,198.24L520.80,198.36L524.42,198.48L528.04,198.58L531.65,198.68L535.27,198.77L538.88,198.85L542.50,198.92" stroke="#0a6e0a" stroke-width="2.4" fill="none" stroke-linecap="butt" stroke-linejoin="round"/>
<text x="302.4" y="11.5" font-size="12.2" fill="#000" stroke="#000" stroke-width="0.3" text-anchor="end" textLength="15.0" lengthAdjust="spacingAndGlyphs" >100</text>
<text x="302.4" y="50.1" font-size="12.2" fill="#000" stroke="#000" stroke-width="0.3" text-anchor="end" textLength="10.0" lengthAdjust="spacingAndGlyphs" >80</text>
<text x="302.4" y="88.6" font-size="12.2" fill="#000" stroke="#000" stroke-width="0.3" text-anchor="end" textLength="10.0" lengthAdjust="spacingAndGlyphs" >60</text>
<text x="302.4" y="127.2" font-size="12.2" fill="#000" stroke="#000" stroke-width="0.3" text-anchor="end" textLength="10.0" lengthAdjust="spacingAndGlyphs" >40</text>
<text x="302.4" y="165.7" font-size="12.2" fill="#000" stroke="#000" stroke-width="0.3" text-anchor="end" textLength="10.0" lengthAdjust="spacingAndGlyphs" >20</text>
<text x="302.4" y="204.7" font-size="12.2" fill="#000" stroke="#000" stroke-width="0.3" text-anchor="end" textLength="4.6" lengthAdjust="spacingAndGlyphs" >0</text>
<text x="306.2" y="211.8" font-size="12.2" fill="#000" stroke="#000" stroke-width="0.3" text-anchor="middle" textLength="15.0" lengthAdjust="spacingAndGlyphs" >−30</text>
<text x="345.9" y="211.8" font-size="12.2" fill="#000" stroke="#000" stroke-width="0.3" text-anchor="middle" textLength="15.0" lengthAdjust="spacingAndGlyphs" >−25</text>
<text x="385.6" y="211.8" font-size="12.2" fill="#000" stroke="#000" stroke-width="0.3" text-anchor="middle" textLength="15.0" lengthAdjust="spacingAndGlyphs" >−20</text>
<text x="425.3" y="211.8" font-size="12.2" fill="#000" stroke="#000" stroke-width="0.3" text-anchor="middle" textLength="15.0" lengthAdjust="spacingAndGlyphs" >−15</text>
<text x="465.0" y="211.8" font-size="12.2" fill="#000" stroke="#000" stroke-width="0.3" text-anchor="middle" textLength="15.0" lengthAdjust="spacingAndGlyphs" >−10</text>
<text x="504.0" y="211.8" font-size="12.2" fill="#000" stroke="#000" stroke-width="0.3" text-anchor="middle" textLength="10.2" lengthAdjust="spacingAndGlyphs" >−5</text>
<text x="543.5" y="211.8" font-size="12.2" fill="#000" stroke="#000" stroke-width="0.3" text-anchor="middle" textLength="4.9" lengthAdjust="spacingAndGlyphs" >0</text>
<text x="404.6" y="226.8" font-size="11.4" fill="#000" stroke="#000" stroke-width="0.3" textLength="42.8" lengthAdjust="spacingAndGlyphs" >P<tspan font-size="6.5" dy="0.8" stroke-width="0" fill="#333">IN</tspan><tspan dy="-0.8">  (dBm)</tspan></text>
<text x="424.5" y="239.4" font-size="11.4" fill="#000" stroke="#000" stroke-width="0.3" text-anchor="middle" textLength="11.5" lengthAdjust="spacingAndGlyphs" >(b)</text>
<text transform="translate(287.4,102.7) rotate(-90)" font-size="11.4" stroke="#000" stroke-width="0.3" text-anchor="middle" textLength="37" lengthAdjust="spacingAndGlyphs">PCE (%)</text>
<path d="M327.1,16.0 H362.0 M400.5,16.0 H433.3" stroke="#0a6e0a" stroke-width="1.6" fill="none"/>
<path d="M323.8,16.0 l5.5,-2.6 l-1.4,2.6 l1.4,2.6z M436.6,16.0 l-5.5,-2.6 l1.4,2.6 l-1.4,2.6z" fill="#0a6e0a"/>
<text x="368.0" y="19.4" font-size="11.4" fill="#1a7a1a" stroke="#1a7a1a" stroke-width="0.3" textLength="28.5" lengthAdjust="spacingAndGlyphs" >16dBm</text>
<path d="M328.2,61.0 H354.0 M392.0,61.0 H426.5" stroke="#ff1a1a" stroke-width="2.0" fill="none"/>
<path d="M324.3,61.0 l6.5,-3.2 l-1.6,3.2 l1.6,3.2z M430.4,61.0 l-6.5,-3.2 l1.6,3.2 l-1.6,3.2z" fill="#ff1a1a"/>
<text x="358.5" y="65.5" font-size="11.2" fill="#ff2020" stroke="#ff2020" stroke-width="0.3" textLength="29.5" lengthAdjust="spacingAndGlyphs" >15dBm</text>
<path d="M398.8,37.8 h5.2 M402.6,35.3 l-3.6,2.5 l3.6,2.5 M445.2,37.8 h-5.2 M441.4,35.3 l3.6,2.5 l-3.6,2.5" stroke="#1414ff" stroke-width="1.4" fill="none"/>
<rect x="404.5" y="30.5" width="35" height="15" fill="#fff"/>
<text x="411.0" y="42.0" font-size="11.2" fill="#2020f5" stroke="#2020f5" stroke-width="0.3" textLength="23.5" lengthAdjust="spacingAndGlyphs" >7dBm</text>
<text x="459.4" y="31.8" font-size="11.2" fill="#1a7a1a" stroke="#1a7a1a" stroke-width="0.3" textLength="71.5" lengthAdjust="spacingAndGlyphs" >88.7% Peak PCE</text>
<text x="456.8" y="107.5" font-size="11.2" fill="#2020f5" stroke="#2020f5" stroke-width="0.3" textLength="71.8" lengthAdjust="spacingAndGlyphs" >21.5% Peak PCE</text>
<rect x="447" y="47.8" width="94" height="39.2" fill="#fff"/>
<path d="M448.5,55.2 H472.5" stroke="#0a6e0a" stroke-width="2.2"/>
<text x="476.2" y="61.2" font-size="11.7" fill="#000" stroke="#000" stroke-width="0.3" textLength="62.0" lengthAdjust="spacingAndGlyphs" >Hybrid (NSPD)</text>
<path d="M448.5,67.3 H472.5" stroke="#ff1a1a" stroke-width="2.2"/>
<text x="476.2" y="72.3" font-size="11.7" fill="#000" stroke="#000" stroke-width="0.3" textLength="26.5" lengthAdjust="spacingAndGlyphs" >CCDD</text>
<path d="M448.5,79.5 H472.5" stroke="#1414ff" stroke-width="2.2"/>
<text x="476.2" y="84.3" font-size="11.7" fill="#000" stroke="#000" stroke-width="0.3" textLength="53.0" lengthAdjust="spacingAndGlyphs" >Diode-based</text>
<rect x="436.0" y="128.0" width="33.0" height="13.0" fill="#fff"/>
<text x="439.0" y="137.9" font-size="11.2" fill="#000" stroke="#000" stroke-width="0.3" textLength="27.5" lengthAdjust="spacingAndGlyphs" >100kΩ</text>
<rect x="405.0" y="142.6" width="30.0" height="13.5" fill="#fff"/>
<text x="407.0" y="152.4" font-size="11.2" fill="#000" stroke="#000" stroke-width="0.3" textLength="27.5" lengthAdjust="spacingAndGlyphs" >200kΩ</text>
<rect x="399.0" y="166.5" width="32.0" height="11.2" fill="#fff"/>
<text x="402.3" y="176.6" font-size="11.2" fill="#000" stroke="#000" stroke-width="0.3" textLength="27.5" lengthAdjust="spacingAndGlyphs" >500kΩ</text>
<rect x="391.0" y="183.6" width="21.5" height="10.5" fill="#fff"/>
<text x="391.8" y="192.2" font-size="11.2" fill="#000" stroke="#000" stroke-width="0.3" textLength="19.0" lengthAdjust="spacingAndGlyphs" >1MΩ</text>
</svg>
</body></html>
